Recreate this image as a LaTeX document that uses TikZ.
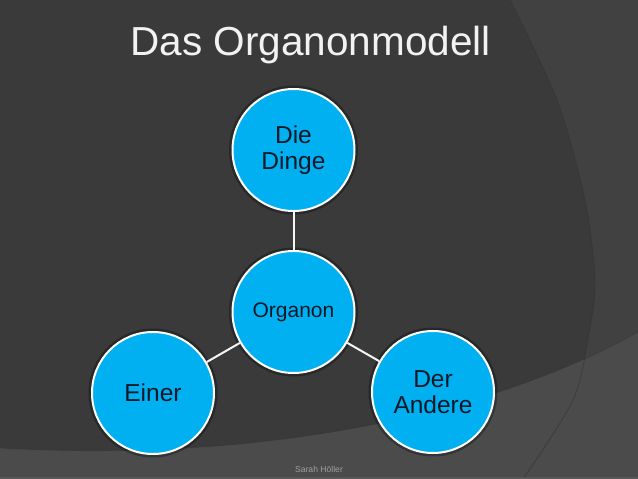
\documentclass[tikz,border=0pt]{standalone}
\usepackage{fontspec}
\setmainfont{Liberation Sans}

\definecolor{slate}{HTML}{3A3A3A}
\definecolor{slatelight}{HTML}{414141}
\definecolor{band}{HTML}{4B4B4B}
\definecolor{cyanfill}{HTML}{00B0F0}
\definecolor{navy}{HTML}{0C1828}

\tikzset{
  bubble/.style={circle,draw=white,line width=2pt,fill=cyanfill,minimum size=122pt,inner sep=0pt,
    align=center,text=navy,font=\fontsize{24.5}{26}\selectfont,
    preaction={draw=black,opacity=.3,line width=7pt}},
  link/.style={draw=gray!8,line width=2pt},
}

\begin{document}
\begin{tikzpicture}[x=1pt,y=-1pt]
\useasboundingbox (0,0) rectangle (638,479);
\fill[slate] (0,0) rectangle (638,479);
\fill[slatelight] plot[smooth] coordinates {(510,0) (557,100) (585,200) (595,280) (589,333) (573,400) (523,479)}
  -- (638,479) -- (638,0) -- cycle;
\fill[band] (0,448) .. controls (250,462) and (480,420) .. (638,332) -- (638,479) -- (0,479) -- cycle;
\draw[black!80,line width=.8pt,opacity=.6] plot[smooth] coordinates {(510,0) (557,100) (585,200) (595,280) (589,333) (573,400) (523,479)};
\draw[black!80,line width=.8pt,opacity=.5] (0,448) .. controls (250,462) and (480,420) .. (638,332);
\fill[gray!70!black] (0,476.5) rectangle (638,479);
\node[anchor=base west,text=white!95!black,font=\fontsize{40.5}{48}\selectfont] (title) at (127,55) {Das Organonmodell};
\node[bubble,font=\fontsize{21}{24}\selectfont] (organon) at (293.5,312) {Organon};
\foreach \nm/\x/\y/\txt in {dinge/293.5/150/{Die\\Dinge},einer/153/393/Einer,andere/433/392/{Der\\Andere}}{
  \node[bubble] (\nm) at (\x,\y) {\txt};
  \draw[link] (organon) -- (\nm);
}
\node[anchor=base,text=gray!75,font=\fontsize{8.6}{10}\selectfont] (author) at (319,472) {Sarah Höller};
\end{tikzpicture}
\end{document}
